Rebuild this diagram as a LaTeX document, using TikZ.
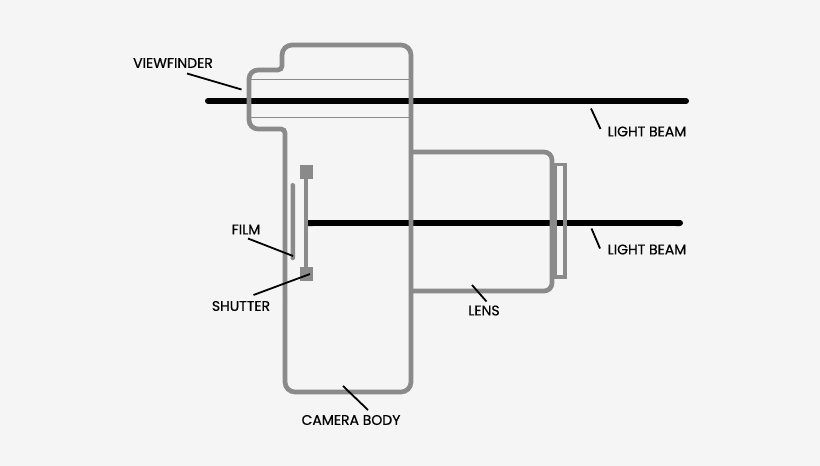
\documentclass[tikz,border=0pt]{standalone}
\usepackage{fontspec}
\setmainfont{Poppins}
\newfontfamily\lblfont{Poppins}[FakeBold=0.6]
\usetikzlibrary{arrows.meta}
\definecolor{bg}{RGB}{245,245,245}
\definecolor{outl}{RGB}{138,138,138}
\begin{document}
\begin{tikzpicture}[x=1pt,y=-1pt,
  outline/.style={draw=outl, line width=4.7pt},
  thinline/.style={draw=outl, line width=1.8pt},
  frontel/.style={draw=outl, line width=3.4pt},
  beam/.style={draw=black, line width=6pt},
  leader/.style={draw=black, line width=1.8pt},
  lbl/.style={inner sep=0pt, anchor=center, font=\lblfont\fontsize{14}{14}\selectfont}]
\fill[bg] (0,0) rectangle (820,466);
\useasboundingbox (0,0) rectangle (820,466);
% light beams
\coordinate (b1s) at (208,101); \coordinate (b1e) at (686,101);
\coordinate (b2s) at (305,223); \coordinate (b2e) at (683,223);
\draw[beam, line cap=round] (b1s) -- (b1e);
\draw[beam, {Butt Cap}-{Round Cap}] (b2s) -- (b2e);
% camera body
\draw[outline, rounded corners=10pt] (282,60) -- (282,45) -- (411,45) -- (411,392) -- (285,392) -- (285,300);
\draw[outline, rounded corners=4pt] (285,300) -- (285,129) -- (265,129);
\draw[outline, rounded corners=9pt] (265,129) -- (249,129) -- (249,70) -- (265,70);
\draw[outline, rounded corners=4pt] (265,70) -- (282,70) -- (282,60);
% viewfinder inner lines
\draw[thinline] (249,79.5) -- (411,79.5);
\draw[thinline] (249,117.5) -- (411,117.5);
% lens
\draw[outline, rounded corners=8pt] (411,152) -- (552,152) -- (552,291) -- (411,291);
\draw[frontel] (555,164.5) rectangle (565,277);
% film and shutter
\fill[outl, rounded corners=1.5pt] (290.5,183) rectangle (295,260);
\draw[outl, line width=3.3pt] (306,172) -- (306,270);
\fill[outl] (300,165) rectangle (313,179);
\fill[outl] (300,267) rectangle (313,281);
% labels
\node[lbl] (vf) at (173,63) {VIEWFINDER};
\node[lbl] (lb1) at (647,131.5) {LIGHT BEAM};
\node[lbl] (lb2) at (647,249.5) {LIGHT BEAM};
\node[lbl] (lens) at (484,310.5) {LENS};
\node[lbl] (film) at (246,229.5) {FILM};
\node[lbl] (shut) at (241,306) {SHUTTER};
\node[lbl] (cam) at (351,420) {CAMERA BODY};
% leaders
\coordinate (vfa) at (187,73.5); \coordinate (vfb) at (241.5,89.5);
\coordinate (lb1a) at (591,108.5); \coordinate (lb1b) at (600.5,129);
\coordinate (lb2a) at (591.5,228.5); \coordinate (lb2b) at (600,248.5);
\coordinate (lensa) at (472,285); \coordinate (lensb) at (486.5,301.5);
\coordinate (filma) at (248,238.5); \coordinate (filmb) at (293,256);
\coordinate (shuta) at (253.5,295); \coordinate (shutb) at (310,274);
\coordinate (cama) at (343,386); \coordinate (camb) at (368,410);
\draw[leader] (vfa) -- (vfb);
\draw[leader] (lb1a) -- (lb1b);
\draw[leader] (lb2a) -- (lb2b);
\draw[leader] (lensa) -- (lensb);
\draw[leader] (filma) -- (filmb);
\draw[leader] (shuta) -- (shutb);
\draw[leader] (cama) -- (camb);
\end{tikzpicture}
\end{document}
